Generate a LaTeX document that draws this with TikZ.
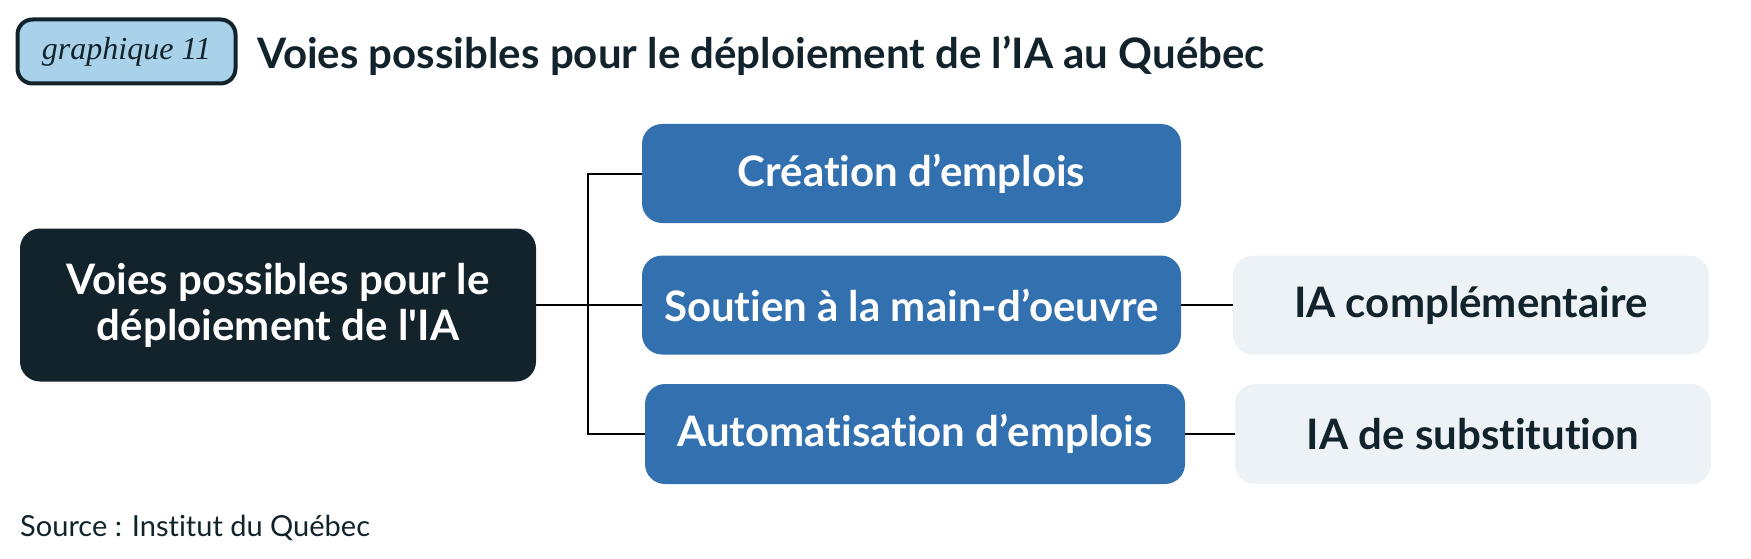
\documentclass[tikz,border=0pt]{standalone}
\usepackage{fontspec}
\setmainfont{Lato}[Ligatures=NoCommon]
\newfontfamily\badgefont{Liberation Serif}
\definecolor{ink}{HTML}{12232B}
\definecolor{badgeblue}{HTML}{A9D2EA}
\definecolor{midblue}{HTML}{3270B0}
\definecolor{paleblue}{HTML}{EDF2F6}
\tikzset{
  box/.style={rounded corners=20pt, inner sep=0pt, align=center, font=\fontsize{42}{46}\selectfont\bfseries},
  darkbox/.style={box, fill=ink, text=white, minimum width=516pt, minimum height=153pt},
  bluebox/.style={box, fill=midblue, text=white, minimum width=539pt, minimum height=99pt},
  palebox/.style={box, fill=paleblue, text=ink, minimum width=476pt, minimum height=99pt},
  link/.style={draw=black, line width=2pt},
}
\begin{document}
\begin{tikzpicture}[x=1pt,y=-1pt]
\useasboundingbox (0,0) rectangle (1751,559);
\node[draw=ink, line width=4pt, fill=badgeblue, rounded corners=15pt, minimum width=218pt, minimum height=64pt, inner sep=0pt, font=\badgefont\itshape\fontsize{32}{36}\selectfont, text=ink] (badge) at (126.5,51.5) {graphique 11};
\node[anchor=base west, inner sep=0pt, text=ink, font=\fontsize{42}{46}\selectfont\bfseries] (title) at (257,69) {Voies possibles pour le déploiement de l’IA au Québec};
\node[darkbox] (root) at (278,305) {Voies possibles pour le\\déploiement de l\textquotesingle IA};
\node[bluebox] (b1) at (911.5,173.5) {Création d’emplois};
\node[bluebox] (b2) at (911.5,305) {Soutien à la main-d’oeuvre};
\node[bluebox, minimum width=540pt, minimum height=100pt] (b3) at (915,434) {Automatisation d’emplois};
\node[palebox] (p1) at (1471,305) {IA complémentaire};
\node[palebox, minimum height=100pt] (p2) at (1473,434) {IA de substitution};
\node[anchor=base west, inner sep=0pt, text=ink, font=\fontsize{29}{33}\selectfont] (src) at (20,536) {Source : Institut du Québec};
\coordinate (jt) at (588,173.5);
\coordinate (jb) at (588,434);
\draw[link] (root.east) -- (b2.west);
\draw[link] (b1.west) -- (jt) -- (jb) -- (b3.west);
\draw[link] (b2.east) -- (p1.west);
\draw[link] (b3.east) -- (p2.west);
\end{tikzpicture}
\end{document}
